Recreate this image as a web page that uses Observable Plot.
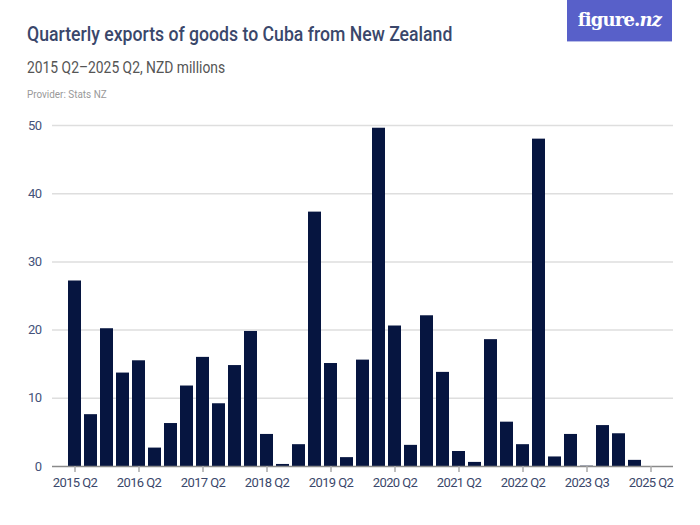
<!DOCTYPE html>
<html>
<head>
<meta charset="utf-8">
<script src="https://cdn.jsdelivr.net/npm/d3@7"></script>
<script src="https://cdn.jsdelivr.net/npm/@observablehq/plot@0.6"></script>
<style>
  html, body { margin: 0; padding: 0; background: #fff; }
  body { width: 700px; height: 525px; position: relative; overflow: hidden;
         font-family: "Roboto", sans-serif; }
  .t { position: absolute; left: 27px; white-space: nowrap; transform-origin: 0 0; }
  #title { top: 22px; font-size: 21px; font-weight: 500; color: #3a476b; transform: scaleX(0.84); }
  #subtitle { top: 58px; font-size: 16.5px; color: #555; transform: scaleX(0.84); }
  #provider { top: 88px; font-size: 11px; color: #999; transform: scaleX(0.9); }
  #logo { position: absolute; left: 567px; top: 0; width: 105px; height: 41px; background: #5860c9;
          border-bottom: 1px solid #b8bde8; color: #fff; font-family: "DejaVu Serif", serif;
          font-weight: bold; font-size: 18px; line-height: 40px; text-align: center; letter-spacing: -0.8px; }
  #chart { position: absolute; left: 0; top: 110px; }
  #chart svg text { letter-spacing: -0.6px; }
</style>
</head>
<body>
<div id="title" class="t">Quarterly exports of goods to Cuba from New Zealand</div>
<div id="subtitle" class="t">2015 Q2–2025 Q2, NZD millions</div>
<div id="provider" class="t">Provider: Stats NZ</div>
<div id="logo">figure.<i>nz</i></div>
<div id="chart"></div>
<script>
const quarters = [
  "2015 Q2","2015 Q3","2015 Q4","2016 Q1",
  "2016 Q2","2016 Q3","2016 Q4","2017 Q1",
  "2017 Q2","2017 Q3","2017 Q4","2018 Q1",
  "2018 Q2","2018 Q3","2018 Q4","2019 Q1",
  "2019 Q2","2019 Q3","2019 Q4","2020 Q1",
  "2020 Q2","2020 Q3","2020 Q4","2021 Q1",
  "2021 Q2","2021 Q3","2021 Q4","2022 Q1",
  "2022 Q2","2022 Q3","2022 Q4","2023 Q1",
  "2023 Q3","2023 Q4","2024 Q2","2024 Q4",
  "2025 Q2"
];
const values = [
  27.2, 7.6, 20.2, 13.7,
  15.5, 2.7, 6.3, 11.8,
  16.0, 9.2, 14.8, 19.8,
  4.7, 0.3, 3.2, 37.3,
  15.1, 1.3, 15.6, 49.6,
  20.6, 3.1, 22.1, 13.8,
  2.2, 0.6, 18.6, 6.5,
  3.2, 48.0, 1.4, 4.7,
  0.05, 6.0, 4.8, 0.9,
  0
];
const tickLabels = ["2015 Q2","2016 Q2","2017 Q2","2018 Q2","2019 Q2","2020 Q2","2021 Q2","2022 Q2","2023 Q3","2025 Q2"];
const yTicks = [0, 10, 20, 30, 40, 50];

const data = quarters.map((q, i) => ({quarter: q, value: values[i]}));

const chart = Plot.plot({
  width: 700,
  height: 395,
  marginTop: 15,
  marginBottom: 39,
  marginLeft: 52,
  marginRight: 27,
  style: { fontFamily: "Roboto, sans-serif", fontSize: "13px", color: "#3a476b", background: "transparent" },
  x: { domain: quarters, paddingInner: 0.2, paddingOuter: 1, label: null },
  y: { domain: [0, 50], ticks: yTicks, label: null },
  marks: [
    Plot.gridY(yTicks.filter(d => d > 0), { stroke: "#dedede", strokeOpacity: 1, strokeWidth: 1.5 }),
    Plot.barY(data, { x: "quarter", y: "value", fill: "#061540" }),
    Plot.ruleY([0], { stroke: "#8a8a8a", strokeWidth: 1.3 }),
    Plot.axisY({ ticks: yTicks, tickSize: 0, tickPadding: 11, fontSize: 13, fill: "#44527a", label: null }),
    Plot.axisX({ ticks: tickLabels, tickSize: 6, tickPadding: 5, stroke: "#aaa", strokeWidth: 1.5, fontSize: 13, fill: "#3a476b", label: null })
  ]
});
document.getElementById("chart").appendChild(chart);
</script>
</body>
</html>
